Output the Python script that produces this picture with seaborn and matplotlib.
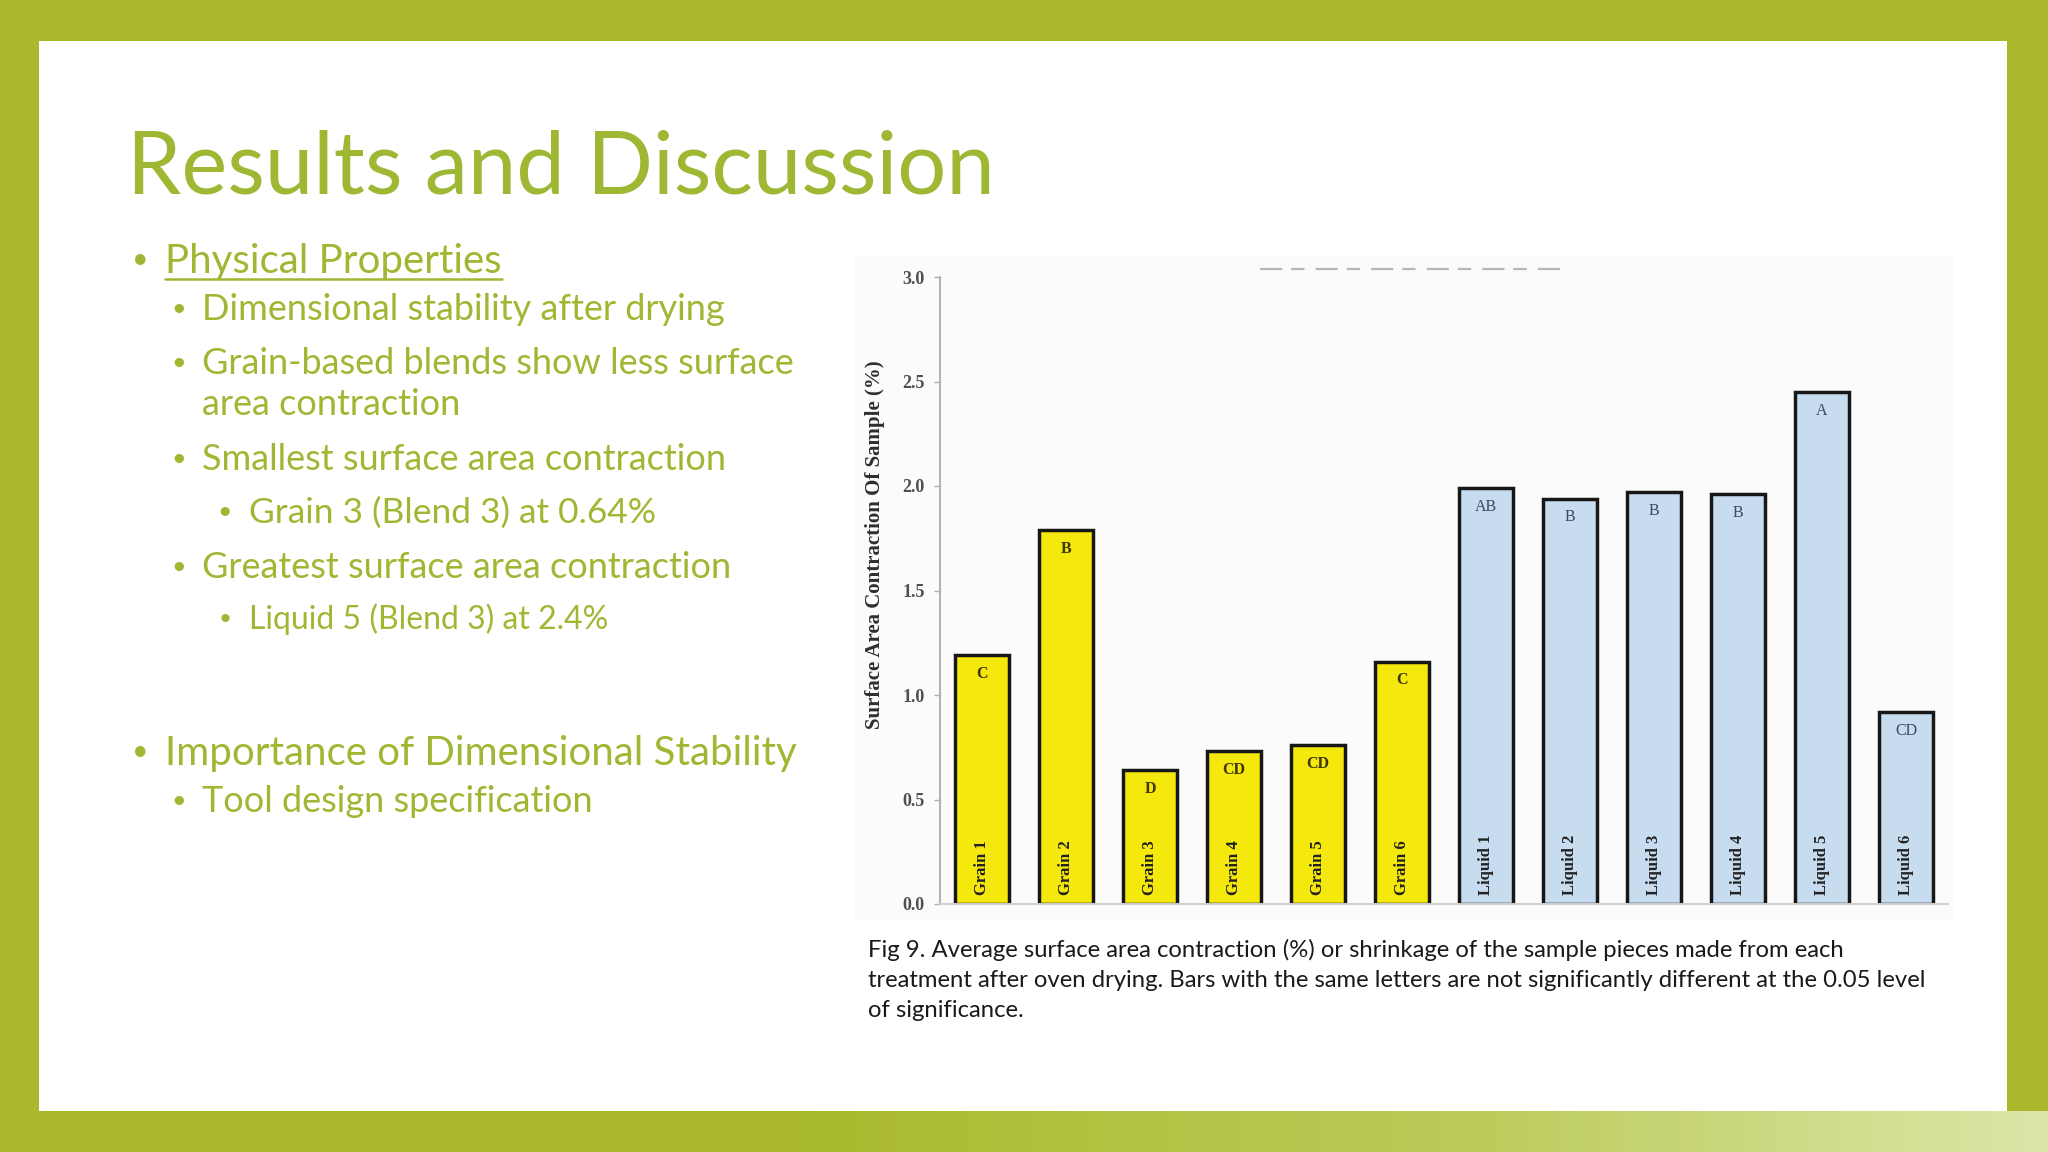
import numpy as np
import matplotlib
matplotlib.use("Agg")
import matplotlib.pyplot as plt
import seaborn as sns
from matplotlib.patches import Rectangle
from matplotlib.lines import Line2D
from matplotlib.colors import LinearSegmentedColormap

# Daten aus Fig 9 (Mittelwerte)
treatments = ["Grain 1", "Grain 2", "Grain 3", "Grain 4", "Grain 5", "Grain 6",
              "Liquid 1", "Liquid 2", "Liquid 3", "Liquid 4", "Liquid 5", "Liquid 6"]
contraction = [1.19, 1.79, 0.64, 0.73, 0.76, 1.16, 1.99, 1.94, 1.97, 1.96, 2.45, 0.92]
letters = ["C", "B", "D", "CD", "CD", "C", "AB", "B", "B", "B", "A", "CD"]
blend_type = ["Grain", "Grain", "Grain", "Grain", "Grain", "Grain",
              "Liquid", "Liquid", "Liquid", "Liquid", "Liquid", "Liquid"]
yticks = [0.0, 0.5, 1.0, 1.5, 2.0, 2.5, 3.0]

W, H = 2048, 1152
GREEN = "#a9b92b"
TEXT_GREEN = "#9eb833"

sns.set_theme(style="white")
plt.rcParams['font.family'] = ['Lato', 'DejaVu Sans']

fig = plt.figure(figsize=(W / 100, H / 100), dpi=100)
fig.patch.set_facecolor(GREEN)

# Folienrahmen: weisse Flaeche + Verlauf unten
fig.add_artist(Rectangle((39 / W, 1 - 1111 / H), (2007 - 39) / W, (1111 - 41) / H,
                         transform=fig.transFigure, facecolor="white", edgecolor="none", zorder=-2))
band = fig.add_axes([0, 0, 1, 41 / H])
cmap = LinearSegmentedColormap.from_list("band", [(0, GREEN), (0.38, GREEN), (0.72, "#bccb5a"), (1, "#dde6a8")])
band.imshow(np.linspace(0, 1, 512)[None, :], aspect="auto", cmap=cmap, extent=(0, 1, 0, 1))
band.axis("off")

# kaum sichtbarer Hintergrund des eingefuegten Diagramms
fig.add_artist(Rectangle((855 / W, 1 - 921 / H), (1953 - 855) / W, (921 - 255) / H,
                         transform=fig.transFigure, facecolor="#fbfbfc", edgecolor="none", zorder=-1))
# Reste des abgeschnittenen Diagrammtitels
fig.add_artist(Line2D([1260 / W, 1565 / W], [1 - 269 / H, 1 - 269 / H], transform=fig.transFigure,
                      color="#9a9a9a", linewidth=1.6, dashes=(10, 4, 6, 5), alpha=0.7))

# Titel
fig.text(127 / W, 1 - 193 / H, "Results and Discussion", fontsize=62.5, color=TEXT_GREEN, va="baseline")

# Aufzaehlung: (Ebene, Text, Grundlinie in px)
bullets = [
    (1, "Physical Properties", 273),
    (2, "Dimensional stability after drying", 320),
    (2, "Grain-based blends show less surface", 374),
    (0, "area contraction", 415),
    (2, "Smallest surface area contraction", 470),
    (3, "Grain 3 (Blend 3) at 0.64%", 523),
    (2, "Greatest surface area contraction", 578),
    (4, "Liquid 5 (Blend 3) at 2.4%", 629),
    (1, "Importance of Dimensional Stability", 765),
    (2, "Tool design specification", 812),
]
levels = {
    1: (140, 165, 29),
    2: (179, 202, 26),
    0: (None, 202, 26),
    3: (225, 249, 25.5),
    4: (225, 249, 23),
}
first_text = None
for lvl, txt, base in bullets:
    bx, tx, fs = levels[lvl]
    if bx is not None:
        fig.text(bx / W, 1 - (base - fs * 0.45) / H, "\u2022", fontsize=fs * 0.7, color=TEXT_GREEN,
                 ha="center", va="center")
    t = fig.text(tx / W, 1 - base / H, txt, fontsize=fs, color=TEXT_GREEN, va="baseline")
    if first_text is None:
        first_text = t

# Unterstreichung "Physical Properties"
fig.canvas.draw()
bb = first_text.get_window_extent()
fig.add_artist(Line2D([bb.x0 / W, bb.x1 / W], [1 - 279 / H, 1 - 279 / H], transform=fig.transFigure,
                      color=TEXT_GREEN, linewidth=1.8))

# Balkendiagramm
ax = fig.add_axes([940 / W, 248 / H, 1008 / W, 627 / H])
ax.set_facecolor("none")
sns.barplot(x=treatments, y=contraction, hue=blend_type,
            palette={"Grain": "#f5e80c", "Liquid": "#c8dcf0"}, saturation=1,
            dodge=False, width=0.65, edgecolor="#171717", linewidth=2.5,
            legend=False, ax=ax)
ax.set_xlim(-0.5, 11.5)
ax.set_ylim(0, 3)
ax.set_yticks(yticks)
ax.set_yticklabels([f"{v:.1f}" for v in yticks], fontfamily="Liberation Serif",
                   fontweight="bold", fontsize=13, color="#505050")
ax.set_xticks([])
ax.set_xlabel("")
ax.tick_params(axis="y", left=True, length=4, width=1, color="#b0b0b0", pad=7)
for s in ["top", "right"]:
    ax.spines[s].set_visible(False)
ax.spines["left"].set_color("#b0b0b0")
ax.spines["left"].set_linewidth(1.4)
ax.spines["bottom"].set_color("#cfcfcf")
ax.spines["bottom"].set_linewidth(1.4)

ax.set_ylabel("Surface Area Contraction Of Sample (%)", fontfamily="Liberation Serif",
              fontweight="bold", fontsize=15, color="#2e2e2e")
ax.yaxis.set_label_coords(-0.055, 0.573)

for i, (name, val, let, grp) in enumerate(zip(treatments, contraction, letters, blend_type)):
    ax.text(i, 0.045, name, rotation=90, ha="center", va="bottom", fontfamily="Liberation Serif",
            fontweight="bold", fontsize=12, color="#222222")
    ax.text(i, val - 0.09, let, ha="center", va="center", fontfamily="Liberation Serif",
            fontweight="bold" if grp == "Grain" else "normal", fontsize=11.5,
            color="#3d3600" if grp == "Grain" else "#3b4b5e")

# Bildunterschrift
caption_lines = ["Fig 9. Average surface area contraction (%) or shrinkage of the sample pieces made from each",
                 "treatment after oven drying. Bars with the same letters are not significantly different at the 0.05 level",
                 "of significance."]
for k, line in enumerate(caption_lines):
    fig.text(868 / W, 1 - (957 + 30 * k) / H, line, fontsize=17.2, color="#1a1a1a", va="baseline")

fig.savefig("out.png", dpi=100, facecolor=fig.get_facecolor())
